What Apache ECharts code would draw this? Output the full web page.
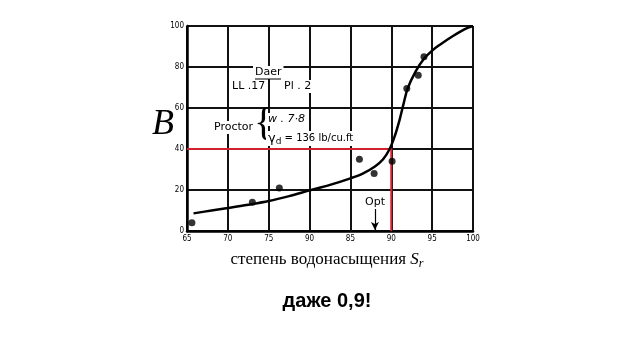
<!DOCTYPE html>
<html><head><meta charset="utf-8">
<script src="https://cdn.jsdelivr.net/npm/echarts@6/dist/echarts.min.js"></script>
<style>html,body{margin:0;padding:0;background:#fff}#c{width:640px;height:360px}</style>
</head><body><div id="c"></div>
<script>
// Tick labels (as printed on the scanned chart)
var xTickValues = [65, 70, 75, 80, 85, 90, 95, 100];
var xTickLabels = ['65', '70', '75', '90', '85', '90', '95', '100'];
var yTickValues = [0, 20, 40, 60, 80, 100];
// Measured points (Sr, B)
var pointSr = [65.6, 73.0, 76.3, 86.1, 87.9, 90.1, 91.9, 93.3, 94.0];
var pointB  = [4, 14, 21, 35, 28, 34, 69.5, 76, 85];
// Fitted curve
var curveSr = [65.8, 68, 70, 72.5, 75, 77.5, 80, 82.5, 85, 86.5, 88, 89, 89.8, 90.4, 91, 91.5, 92, 93, 94, 95, 96, 97.5, 99, 100];
var curveB  = [8.6, 10, 11.2, 12.8, 14.6, 17, 19.8, 22.5, 25.7, 28, 31.5, 35, 40, 46, 54, 62, 69.5, 78, 84, 88, 91, 95, 98.5, 100];
// Red guide (Sr=90, B=40)
var guideSr = [65, 90, 90];
var guideB  = [40, 40, 0];
// Opt arrow
var optSr = 88;

function zip(a, b) { return a.map(function (v, i) { return [v, b[i]]; }); }

var chart = echarts.init(document.getElementById('c'));
var black = '#000';
chart.setOption({
  animation: false,
  backgroundColor: '#fff',
  grid: { left: 187, right: 167, top: 26, bottom: 129 },
  xAxis: {
    type: 'value', min: 65, max: 100, interval: 5,
    axisLine: { show: true, lineStyle: { color: black, width: 2.5 } },
    axisTick: { show: false },
    splitLine: { show: true, lineStyle: { color: '#111', width: 2 } },
    axisLabel: {
      color: black, fontSize: 8, fontFamily: 'DejaVu Sans Condensed', margin: 4,
      formatter: function (v) { var i = xTickValues.indexOf(v); return i >= 0 ? xTickLabels[i] : ''; }
    }
  },
  yAxis: {
    type: 'value', min: 0, max: 100, interval: 20,
    axisLine: { show: true, lineStyle: { color: black, width: 2.5 } },
    axisTick: { show: false },
    splitLine: { show: true, lineStyle: { color: '#111', width: 2 } },
    axisLabel: { color: black, fontSize: 8, fontFamily: 'DejaVu Sans Condensed', margin: 3,
      formatter: function (v) { return yTickValues.indexOf(v) >= 0 ? String(v) : ''; } }
  },
  series: [
    {
      type: 'line', data: zip(guideSr, guideB), symbol: 'none', z: 3,
      lineStyle: { color: '#d0202e', width: 2 }
    },
    {
      type: 'line', data: zip(curveSr, curveB), symbol: 'none', smooth: 0.35, z: 4,
      lineStyle: { color: black, width: 2.5 },
      markLine: {
        silent: true, symbol: ['none', 'arrow'], symbolSize: [6, 8],
        label: { show: false },
        lineStyle: { color: black, width: 1.2, type: 'solid' },
        data: [[{ coord: [optSr, 11] }, { coord: [optSr, 0.5] }]]
      }
    },
    {
      type: 'scatter', data: zip(pointSr, pointB), symbol: 'circle', symbolSize: 7, z: 5,
      itemStyle: { color: black }
    }
  ],
  graphic: [
    { type: 'text', x: 253, y: 66, z: 10, style: { text: 'Daer', font: '11px "DejaVu Sans"', fill: black, backgroundColor: '#fff', padding: [1, 2] } },
    { type: 'line', z: 11, shape: { x1: 255, y1: 79, x2: 281, y2: 79 }, style: { stroke: black, lineWidth: 1 } },
    { type: 'text', x: 230, y: 80, z: 10, style: { text: 'LL .17', font: '11px "DejaVu Sans"', fill: black, backgroundColor: '#fff', padding: [1, 2] } },
    { type: 'text', x: 282, y: 80, z: 10, style: { text: 'Pl . 2', font: '11px "DejaVu Sans"', fill: black, backgroundColor: '#fff', padding: [1, 2] } },
    { type: 'text', x: 212, y: 121, z: 10, style: { text: 'Proctor', font: '11px "DejaVu Sans"', fill: black, backgroundColor: '#fff', padding: [1, 2] } },
    { type: 'text', x: 254, y: 104, z: 10, style: { text: '{', font: '40px "Liberation Serif"', fill: black } },
    { type: 'text', x: 266, y: 113, z: 10, style: { text: 'w . 7·8', font: 'italic 11px "DejaVu Sans"', fill: black, backgroundColor: '#fff', padding: [1, 2] } },
    { type: 'text', x: 266, y: 131, z: 10, style: { text: '{g|γ}{d|d}{t| = 136 lb/cu.ft}', rich: {
        g: { font: '13px "DejaVu Sans"', fill: black },
        d: { font: '9px "DejaVu Sans"', fill: black, padding: [6, 0, 0, 0] },
        t: { font: '10px "DejaVu Sans"', fill: black }
      }, backgroundColor: '#fff', padding: [0, 2] } },
    { type: 'text', x: 364, y: 196, z: 10, style: { text: 'Opt', font: '11px "DejaVu Sans"', fill: black, backgroundColor: '#fff', padding: [1, 1] } },
    { type: 'text', x: 163, y: 125, z: 10, style: { text: 'B', font: 'italic 36px "Liberation Serif"', fill: black, align: 'center', verticalAlign: 'middle' } },
    { type: 'text', x: 327, y: 260, z: 10, style: { text: '{a|степень водонасыщения }{s|S}{r|r}', align: 'center', verticalAlign: 'middle', rich: {
        a: { font: '17px "Liberation Serif"', fill: black },
        s: { font: 'italic 17px "Liberation Serif"', fill: black },
        r: { font: 'italic 12px "Liberation Serif"', fill: black, padding: [7, 0, 0, 0] }
      } } },
    { type: 'text', x: 327, y: 301, z: 10, style: { text: 'даже 0,9!', font: 'bold 20px "Liberation Sans"', fill: black, align: 'center', verticalAlign: 'middle' } }
  ]
});
</script>
</body></html>
